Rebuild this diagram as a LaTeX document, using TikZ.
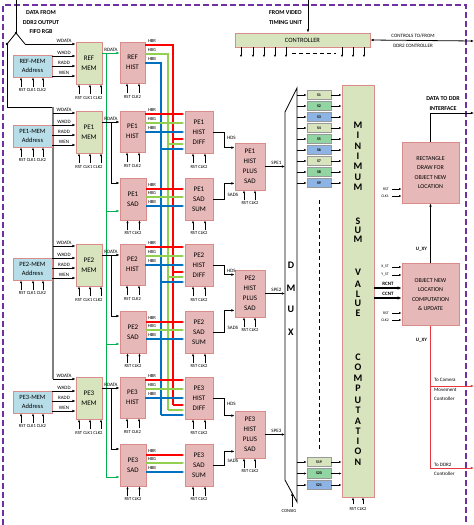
\documentclass[tikz,border=0pt]{standalone}
\usepackage{fontspec}
\setmainfont{Carlito}
\usetikzlibrary{positioning}
\usetikzlibrary{calc}
\usetikzlibrary{arrows.meta}
\definecolor{addrblue}{HTML}{B7DEE8}
\definecolor{memgreen}{HTML}{D7E4BD}
\definecolor{histpink}{HTML}{E6B9B8}
\definecolor{boxedge}{HTML}{D98C8A}
\definecolor{busgray}{HTML}{7F7F7F}
\definecolor{hbred}{HTML}{FF0000}
\definecolor{hbgreen}{HTML}{92D050}
\definecolor{hbblue}{HTML}{0070C0}
\definecolor{rdgreen}{HTML}{00B050}
\definecolor{sa}{HTML}{D7E4BD}
\definecolor{sb}{HTML}{92D5A3}
\definecolor{sc}{HTML}{8DB4E2}
\definecolor{outred}{HTML}{E8383D}
\definecolor{framepurple}{HTML}{7030A0}

\begin{document}
\begin{tikzpicture}
		[
			x = 1pt, y = -1pt,
			sz/.style 2 args = {minimum width = #1pt, minimum height = #2pt},
			box/.style = {rectangle, draw = boxedge, line width = 0.8pt, inner sep = 0pt, align = center, font = \fontsize{7}{10}\selectfont},
			addr/.style = {box, fill = addrblue, sz = {39}{22}, font = \fontsize{6.5}{9.5}\selectfont},
			mem/.style = {box, fill = memgreen, sz = {26}{42}},
			hist/.style = {box, fill = histpink, sz = {25}{41}},
			bigbox/.style = {box, fill = histpink, sz = {57}{62}, font = \fontsize{6}{9.5}\selectfont},
			sbox/.style = {rectangle, draw = black!40, line width = 0.6pt, sz = {24}{9.5}, inner sep = 0pt, font = \fontsize{4}{5}\selectfont\bfseries},
			wire/.style = {line width = 0.8pt, -{Latex[length = 3.2pt, width = 2.6pt]}},
			tick/.style = {line width = 0.6pt, -{Latex[length = 2.6pt, width = 2.2pt]}},
			fat/.style = {line width = 1.8pt, -{Latex[length = 4pt, width = 3.6pt]}},
			hbr/.style = {wire, line width = 1.3pt, hbred},
			hbg/.style = {wire, line width = 1.3pt, hbgreen},
			hbb/.style = {wire, line width = 1.3pt, hbblue},
			rdline/.style = {wire, line width = 1pt, rdgreen},
			outline/.style = {wire, line width = 1pt, outred},
			lab/.style = {inner sep = 0pt, font = \fontsize{4.6}{5}\selectfont},
			sig/.style = {inner sep = 0pt, font = \fontsize{5}{6}\selectfont},
			bold/.style = {inner sep = 0pt, align = center, font = \fontsize{6}{9.5}\selectfont\bfseries},
			bigletter/.style = {inner sep = 0pt, font = \fontsize{10}{10}\selectfont\bfseries},
			frame/.style = {framepurple, line width = 1.5pt, dash pattern = on 6pt off 3pt},
		]
			%
			\useasboundingbox (0,0) rectangle (474,525);
			\draw [frame] (3,525) -- (3,5) -- (466,5) -- (466,525);
			%
			% input from ddr2 and the write data split
			\coordinate (ddrin) at (16,0);
			\coordinate (swtop) at (16,33);
			\coordinate (swl) at (7,44);
			\coordinate (swr) at (25,44);
			\coordinate (bustop) at (53,107);
			\draw [line width = 0.8pt] (ddrin) -- (swtop);
			\draw [line width = 0.8pt] (swl) -- (swtop) -- (swr);
			\fill (swtop) circle (1.4pt);
			\fill (swl) circle (1.4pt);
			\draw [line width = 0.8pt] (swl) |- (bustop);
			\draw [busgray, line width = 2.4pt] (bustop) -- (53,379);
			\node (ddrlabel) [bold] at (41,22.5) {DATA FROM\\DDR2 OUTPUT\\FIFO RGB};
			%
			% reference row
			\node (refaddr) [addr] at (32.5,66) {REF-MEM\\Address};
			\node (refmem) [mem] at (89,63) {REF\\MEM};
			\node (refhist) [hist] at (132.5,62.5) {REF\\HIST};
			\draw [wire] (swr) -- (refmem.west |- swr);
			\node (refwdata) [sig] at (64,40.5) {WDATA};
			\draw [wire] (refaddr.east |- 0,56) -- (refmem.west |- 0,56);
			\node (refwadd) [sig] at (64,52.5) {WADD};
			\draw [wire] (refaddr.east |- 0,66) -- (refmem.west |- 0,66);
			\node (refradd) [sig] at (64,62.5) {RADD};
			\draw [wire] (refaddr.east |- 0,76) -- (refmem.west |- 0,76);
			\node (refwen) [sig] at (64,72.5) {WEN};
			\foreach \dx in {-11.5,0.5,10.5} \draw [tick] ([xshift = \dx pt, yshift = -10pt]refaddr.south) -- ([xshift = \dx pt]refaddr.south);
			\node (refaddrclk) [lab] at ([yshift = -13pt]refaddr.south) {RST CLK1 CLK2};
			\foreach \dx in {-10,1,12} \draw [tick] ([xshift = \dx pt, yshift = -10pt]refmem.south) -- ([xshift = \dx pt]refmem.south);
			\node (refmemclk) [lab] at ([yshift = -14pt]refmem.south) {RST CLK1 CLK2};
			\foreach \dx in {-5.5,6.5} \draw [tick] ([xshift = \dx pt, yshift = -10pt]refhist.south) -- ([xshift = \dx pt]refhist.south);
			\node (refhistclk) [lab] at ([yshift = -14pt]refhist.south) {RST CLK2};
			\draw [rdline] (refmem.east |- 0,53) -- (refhist.west |- 0,53);
			\draw [rdline, -] (106,53) -- (106,477);
			\node (refrdata) [sig] at (111,49.5) {RDATA};
			% reference histogram buses
			\draw [hbr, -] (refhist.east |- 0,45) -- (173,45) -- (173,405);
			\draw [hbg, -] (refhist.east |- 0,54) -- (168,54) -- (168,410);
			\draw [hbb, -] (refhist.east |- 0,63) -- (161,63) -- (161,415);
			\node (refhbr) [lab] at (152,41.5) {HBR};
			\node (refhbg) [lab] at (152,50.5) {HBG};
			\node (refhbb) [lab] at (152,59.5) {HBB};
			%
			% processing element rows
			\foreach \i/\t/\h in {1/111/166.5, 2/244/293.5, 3/377/434.5} {
				\node (addr\i) [addr] at (32.5,\t+25) {PE\i-MEM\\Address};
				\node (mem\i) [mem] at (89,\t+21) {PE\i\\MEM};
				\node (hist\i) [hist] at (132.5,\t+20.5) {PE\i\\HIST};
				\node (sad\i) [hist, sz = {26}{42}] at (133,\t+88) {PE\i\\SAD};
				\node (diff\i) [hist, sz = {28}{42}] at (199,\t+21) {PE\i\\HIST\\DIFF};
				\node (sum\i) [hist, sz = {28}{42}] at (199,\t+88) {PE\i\\SAD\\SUM};
				\node (plus\i) [hist, sz = {30}{47}] at (250,\h) {PE\i\\HIST\\PLUS\\SAD};
				%
				\draw [wire] (53,\t+2) -- (mem\i.west |- 0,\t+2);
				\node (wdata\i) [sig] at (64,\t-1.5) {WDATA};
				\draw [wire] (addr\i.east |- 0,\t+14) -- (mem\i.west |- 0,\t+14);
				\node (wadd\i) [sig] at (64,\t+10.5) {WADD};
				\draw [wire] (addr\i.east |- 0,\t+24) -- (mem\i.west |- 0,\t+24);
				\node (radd\i) [sig] at (64,\t+20.5) {RADD};
				\draw [wire] (addr\i.east |- 0,\t+34) -- (mem\i.west |- 0,\t+34);
				\node (wen\i) [sig] at (64,\t+30.5) {WEN};
				%
				\foreach \dx in {-11.5,0.5,10.5} \draw [tick] ([xshift = \dx pt, yshift = -10pt]addr\i.south) -- ([xshift = \dx pt]addr\i.south);
				\node (addrclk\i) [lab] at ([yshift = -13pt]addr\i.south) {RST CLK1 CLK2};
				\foreach \dx in {-10,1,12} \draw [tick] ([xshift = \dx pt, yshift = -10pt]mem\i.south) -- ([xshift = \dx pt]mem\i.south);
				\node (memclk\i) [lab] at ([yshift = -14pt]mem\i.south) {RST CLK1 CLK2};
				\foreach \dx in {-5.5,6.5} \draw [tick] ([xshift = \dx pt, yshift = -10pt]hist\i.south) -- ([xshift = \dx pt]hist\i.south);
				\node (histclk\i) [lab] at ([yshift = -14pt]hist\i.south) {RST CLK2};
				\foreach \dx in {-5.5,6.5} \draw [tick] ([xshift = \dx pt, yshift = -10pt]sad\i.south) -- ([xshift = \dx pt]sad\i.south);
				\node (sadclk\i) [lab] at ([yshift = -13pt]sad\i.south) {RST CLK2};
				\foreach \dx in {-6,6} \draw [tick] ([xshift = \dx pt, yshift = -10pt]diff\i.south) -- ([xshift = \dx pt]diff\i.south);
				\node (diffclk\i) [lab] at ([yshift = -14pt]diff\i.south) {RST CLK2};
				\foreach \dx in {-6,6} \draw [tick] ([xshift = \dx pt, yshift = -10pt]sum\i.south) -- ([xshift = \dx pt]sum\i.south);
				\node (sumclk\i) [lab] at ([yshift = -13pt]sum\i.south) {RST CLK2};
				\foreach \dx in {-6,5} \draw [tick] ([xshift = \dx pt, yshift = -10pt]plus\i.south) -- ([xshift = \dx pt]plus\i.south);
				\node (plusclk\i) [lab] at ([yshift = -13pt]plus\i.south) {RST CLK2};
				%
				\draw [wire] (mem\i.east |- 0,\t+11) -- (hist\i.west |- 0,\t+11);
				\draw [wire] (mem\i.east |- 0,\t+11) -- (111,\t+11) |- (sad\i.west |- 0,\t+72);
				\node (rdata\i) [sig] at (111,\t+7.5) {RDATA};
				\draw [rdline] (106,\t+100) -- (sad\i.west |- 0,\t+100);
				%
				\draw [hbr] (hist\i.east |- 0,\t+3) -- (diff\i.west |- 0,\t+3);
				\draw [hbg] (hist\i.east |- 0,\t+12) -- (diff\i.west |- 0,\t+12);
				\draw [hbb] (hist\i.east |- 0,\t+21) -- (diff\i.west |- 0,\t+21);
				\node (hbrh\i) [lab] at (152,\t-0.5) {HBR};
				\node (hbgh\i) [lab] at (152,\t+8.5) {HBG};
				\node (hbbh\i) [lab] at (152,\t+17.5) {HBB};
				\draw [hbr] (173,\t+28) -- (diff\i.west |- 0,\t+28);
				\draw [hbg] (168,\t+33) -- (diff\i.west |- 0,\t+33);
				\draw [hbb] (161,\t+38) -- (diff\i.west |- 0,\t+38);
				%
				\draw [hbr] (sad\i.east |- 0,\t+78) -- (sum\i.west |- 0,\t+78);
				\draw [hbg] (sad\i.east |- 0,\t+86) -- (sum\i.west |- 0,\t+86);
				\draw [hbb] (sad\i.east |- 0,\t+95) -- (sum\i.west |- 0,\t+95);
				\node (hbrs\i) [lab] at (152,\t+74.5) {HBR};
				\node (hbgs\i) [lab] at (152,\t+82.5) {HBG};
				\node (hbbs\i) [lab] at (152,\t+91.5) {HBB};
				%
				\draw [wire] (diff\i.east) -- ++(11,0) |- ([yshift = -5pt]plus\i.north west);
				\node (hds\i) [sig] at ([xshift = 18pt, yshift = -6pt]diff\i.east) {HDS};
				\draw [wire] (sum\i.east) -- ++(11,0) |- ([yshift = 7pt]plus\i.south west);
				\node (sads\i) [sig] at ([xshift = 19.5pt, yshift = 4pt]sum\i.east) {SADS};
				\draw [wire] (plus\i.east) -- (plus\i.east -| 285,0);
				\node (spe\i) [sig] at ([xshift = 11pt, yshift = 4pt]plus\i.east) {SPE\i};
			}
			%
			% demultiplexer
			\coordinate (dmuxnw) at (285,112);
			\coordinate (dmuxne) at (297,88);
			\coordinate (dmuxse) at (297,502);
			\coordinate (dmuxsw) at (285,480);
			\draw [line width = 0.8pt] (dmuxnw) -- (dmuxne) -- (dmuxse) -- (dmuxsw) -- cycle;
			\foreach \ch/\y [count = \n] in {D/265, M/288, U/309, X/332} \node (dmuxl\n) [bigletter] at (291,\y) {\ch};
			\node (consig) [lab] at (289,511) {CONSIG};
			\draw [tick] (292,507) -- (292,493);
			%
			% controller
			\node (ctrl) [box, fill = memgreen, sz = {135}{14}, font = \fontsize{6.5}{7}\selectfont] at (302.5,40) {CONTROLLER};
			\coordinate (vidin) at (308,0);
			\draw [wire] (vidin) -- (ctrl.north -| vidin);
			\node (vidlabel) [bold] at (285.5,17.5) {FROM VIDEO\\TIMING UNIT};
			\foreach \xx in {241,253,264,275,286,342,353,364} \draw [tick] (ctrl.south -| \xx,0) -- ++(0,10);
			\draw [line width = 0.8pt, dash pattern = on 4pt off 3pt] (292,53) -- (336,53);
			\coordinate (ddrctl) at (474,41);
			\draw [line width = 0.8pt, {Latex[length = 3.2pt, width = 2.6pt]}-{Latex[length = 3.2pt, width = 2.6pt]}] (ctrl.east) -- (ddrctl);
			\node (ctrllabel) [sig, align = center, font = \fontsize{5}{10}\selectfont] at (413,41) {CONTROLS TO/FROM\\DDR2 CONTROLLER};
			%
			% minimum sum value computation
			\node (minsum) [box, fill = memgreen, sz = {32}{412}] at (358,291) {};
			\foreach \ch/\y [count = \n] in {M/125, I/135.5, N/146, I/156, M/166.5, U/177, M/187.5, S/221, U/230, M/239.5, V/272, A/284, L/294, U/303.5, E/313, C/357, O/367.5, M/378, P/388, U/400, T/410.5, A/421, T/431, I/441, O/451.5, N/462}
				\node (msl\n) [bigletter] at (358,\y) {\ch};
			\foreach \dx in {-5,5} \draw [tick] ([xshift = \dx pt, yshift = -7pt]minsum.south) -- ([xshift = \dx pt]minsum.south);
			\node (minsumclk) [lab] at ([yshift = -12pt]minsum.south) {RST CLK2};
			%
			\foreach \k/\y/\c in {1/95/sa, 2/106/sb, 3/117/sc, 4/128/sa, 5/139/sb, 6/150/sc, 7/161/sa, 8/172/sb, 9/183/sc, 19/462/sa, 20/473.5/sb, 21/485/sc} {
				\node (s\k) [sbox, fill = \c] at (319,\y) {S\k};
				\draw [tick] (dmuxne |- s\k.west) -- (s\k.west);
				\draw [tick] (s\k.east) -- (s\k.east -| minsum.west);
			}
			\draw [line width = 0.8pt, dash pattern = on 4pt off 3pt] (319,200) -- (319,450);
			%
			% object location and rectangle drawing
			\node (objloc) [bigbox] at (430.5,294.5) {OBJECT NEW\\LOCATION\\COMPUTATION\\\& UPDATE};
			\node (rectdraw) [bigbox, sz = {57}{61}] at (430.5,172.5) {RECTANGLE\\DRAW FOR\\OBJECT NEW\\LOCATION};
			\draw [fat] (minsum.east |- 0,288) -- (objloc.west |- 0,288);
			\node (rcnt) [sig, font = \fontsize{5}{6}\selectfont\bfseries] at (388,283.5) {RCNT};
			\draw [fat] (minsum.east |- 0,298) -- (objloc.west |- 0,298);
			\node (ccnt) [sig, font = \fontsize{5}{6}\selectfont\bfseries] at (388,293.5) {CCNT};
			\foreach \nm/\y in {X\_ST/267, Y\_ST/275, RST/313, CLK2/320} {
				\draw [tick] (392,\y) -- (objloc.west |- 0,\y);
				\node [lab, font = \fontsize{3.8}{4}\selectfont, anchor = east] at (389,\y) {\nm};
			}
			\foreach \nm/\y in {RST/189, CLK1/196} {
				\draw [tick] (392,\y) -- (rectdraw.west |- 0,\y);
				\node [lab, font = \fontsize{3.8}{4}\selectfont, anchor = east] at (389,\y) {\nm};
			}
			\draw [wire] (objloc.north) -- (rectdraw.south);
			\node (uxyup) [sig, font = \fontsize{5}{6}\selectfont\bfseries] at (421.5,249) {U\_XY};
			\node (uxydown) [sig, font = \fontsize{5}{6}\selectfont\bfseries] at (421.5,340) {U\_XY};
			%
			\coordinate (ddrout) at (474,113);
			\draw [wire] (rectdraw.north) |- (ddrout);
			\node (ddroutlabel) [bold] at (443,103.5) {DATA TO DDR\\INTERFACE};
			%
			\coordinate (camout) at (474,386);
			\coordinate (ddr2out) at (474,468);
			\draw [outline] (objloc.south) |- (ddr2out);
			\draw [outline] (objloc.south |- camout) -- (camout);
			\node (camlabel) [sig, anchor = west, align = left, font = \fontsize{5}{9.5}\selectfont] at (434,389.5) {To Camera\\Movement\\Controller};
			\node (ddr2label) [sig, anchor = west, align = left, font = \fontsize{5}{9.5}\selectfont] at (434,469.5) {To DDR2\\Controller};
			%
		\end{tikzpicture}
\end{document}
